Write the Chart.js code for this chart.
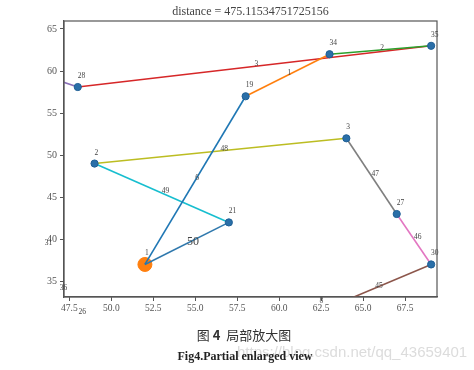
<!DOCTYPE html>
<html>
<head>
<meta charset="utf-8">
<script src="https://cdn.jsdelivr.net/npm/chart.js@4/dist/chart.umd.min.js"></script>
<style>
  html, body { margin: 0; padding: 0; background: #fff; }
  #wrap { position: relative; width: 474px; height: 370px; overflow: hidden; }
  canvas { position: absolute; left: 0; top: 0; }
  .cap { position: absolute; left: 0; width: 474px; white-space: nowrap; }
  #cn { top: 325px; left: 244px; width: auto; transform: translateX(-50%); font-family: "Noto Sans CJK SC", sans-serif; font-size: 13px; color: #333; }
  #en { top: 349px; left: 245px; width: auto; transform: translateX(-50%); font-family: "Liberation Serif", serif; font-size: 12px; font-weight: bold; color: #222; z-index: 2; }
  #wm { top: 343px; left: 237px; width: auto; font-family: "Liberation Sans", sans-serif; font-size: 15px; color: #dcdcdc; z-index: 1; }
</style>
</head>
<body>
<div id="wrap">
  <canvas id="c" width="474" height="370"></canvas>
  <div class="cap" id="cn">图 <b>4</b>&nbsp;&nbsp;局部放大图</div>
  <div class="cap" id="wm">https://blog.csdn.net/qq_43659401</div>
  <div class="cap" id="en">Fig4.Partial enlarged view</div>
</div>
<script>
// ---- data ----
const titleText = "distance = 475.11534751725156";
const nodeIds = ["1", "2", "3", "8", "19", "21", "26", "27", "28", "30", "31", "34", "35", "36", "18"];
const nodeX   = [52, 49, 64, 62.4, 58, 57, 48.04, 67, 48, 69.05, 46.03, 63, 69.05, 46.93, 38];
const nodeY   = [37, 49, 52, 31.4, 57, 42, 30.05, 43, 58.1, 37, 38.2, 62, 63, 32.87, 64.8];
const startNode = "1";
const edgeFrom  = ["1", "19", "34", "35", "28", "30", "27", "3", "2", "2", "21"];
const edgeTo    = ["19", "34", "35", "28", "18", "8", "30", "27", "3", "21", "1"];
const edgeLabel = ["6", "1", "2", "3", "4", "45", "46", "47", "48", "49", "50"];
const xTicks = [47.5, 50.0, 52.5, 55.0, 57.5, 60.0, 62.5, 65.0, 67.5];
const yTicks = [35, 40, 45, 50, 55, 60, 65];
const xRange = [47.18, 69.4];
const yRange = [33.13, 65.95];

// ---- styles ----
const edgeColors = ["#1f77b4", "#ff7f0e", "#2ca02c", "#d62728", "#8a6fb8", "#8c564b", "#e377c2", "#7f7f7f", "#bcbd22", "#17becf", "#2f78ad"];
const serif = "'Liberation Serif', 'DejaVu Serif', serif";

function nodePos(id) { const i = nodeIds.indexOf(id); return { x: nodeX[i], y: nodeY[i] }; }

const datasets = [];
// blue nodes (on top)
datasets.push({
  type: 'scatter',
  data: nodeIds.filter(id => id !== startNode).map(id => nodePos(id)),
  backgroundColor: '#2a6fa8', borderColor: '#1f5f95', borderWidth: 1,
  pointRadius: 3.6, pointHoverRadius: 3.6, order: 0
});
// edges
for (let i = 0; i < edgeFrom.length; i++) {
  datasets.push({
    type: 'line',
    data: [nodePos(edgeFrom[i]), nodePos(edgeTo[i])],
    borderColor: edgeColors[i], borderWidth: 1.6,
    pointRadius: 0, fill: false, tension: 0, order: 1
  });
}
// start node (below lines)
datasets.push({
  type: 'scatter',
  data: [nodePos(startNode)],
  backgroundColor: '#ff7f0e', borderColor: '#ff7f0e',
  pointRadius: 7, pointHoverRadius: 7, order: 2
});

const overlay = {
  id: 'overlay',
  afterDraw(chart) {
    const ctx = chart.ctx, ca = chart.chartArea;
    const xs = chart.scales.x, ys = chart.scales.y;
    ctx.save();
    // axes box
    ctx.strokeStyle = '#555';
    ctx.lineWidth = 1.2;
    ctx.strokeRect(ca.left, ca.top, ca.right - ca.left, ca.bottom - ca.top);
    // title
    ctx.fillStyle = '#444';
    ctx.font = '12px ' + serif;
    ctx.textAlign = 'center';
    ctx.textBaseline = 'middle';
    ctx.fillText(titleText, (ca.left + ca.right) / 2, 11.5);
    // node labels
    ctx.fillStyle = '#444';
    ctx.font = '7.5px ' + serif;
    ctx.textAlign = 'left';
    for (let i = 0; i < nodeIds.length; i++) {
      const px = xs.getPixelForValue(nodeX[i]), py = ys.getPixelForValue(nodeY[i]);
      ctx.fillText(nodeIds[i], px, py - 11);
    }
    // edge labels
    for (let i = 0; i < edgeFrom.length; i++) {
      const a = nodePos(edgeFrom[i]), b = nodePos(edgeTo[i]);
      const mx = xs.getPixelForValue((a.x + b.x) / 2), my = ys.getPixelForValue((a.y + b.y) / 2);
      if (mx < ca.left || mx > ca.right || my < ca.top || my > ca.bottom) continue;
      ctx.font = (edgeLabel[i] === "50" ? '12px ' : '7.5px ') + serif;
      ctx.fillStyle = '#444';
      ctx.fillText(edgeLabel[i], mx, my - 2);
    }
    ctx.restore();
  }
};

new Chart(document.getElementById('c'), {
  data: { datasets },
  options: {
    responsive: false,
    animation: false,
    events: [],
    layout: { padding: { left: 0, right: 37, top: 21, bottom: 0 } },
    plugins: { legend: { display: false }, tooltip: { enabled: false }, title: { display: false } },
    scales: {
      x: {
        type: 'linear', position: 'bottom', min: xRange[0], max: xRange[1],
        afterBuildTicks: s => { s.ticks = xTicks.map(v => ({ value: v })); },
        afterFit: s => { s.height = 73; },
        ticks: { callback: v => Number(v).toFixed(1), color: '#555', font: { family: serif, size: 9.5 }, padding: 2, maxRotation: 0, autoSkip: false },
        grid: { display: true, drawOnChartArea: false, drawTicks: true, tickLength: 4, color: '#555' },
        border: { display: true, color: '#555', width: 1.2 }
      },
      y: {
        type: 'linear', position: 'left', min: yRange[0], max: yRange[1],
        afterBuildTicks: s => { s.ticks = yTicks.map(v => ({ value: v })); },
        afterFit: s => { s.width = 64; },
        ticks: { callback: v => String(v), color: '#555', font: { family: serif, size: 10 }, padding: 3, autoSkip: false },
        grid: { display: true, drawOnChartArea: false, drawTicks: true, tickLength: 4, color: '#555' },
        border: { display: true, color: '#555', width: 1.2 }
      }
    }
  },
  plugins: [overlay]
});
</script>
</body>
</html>
